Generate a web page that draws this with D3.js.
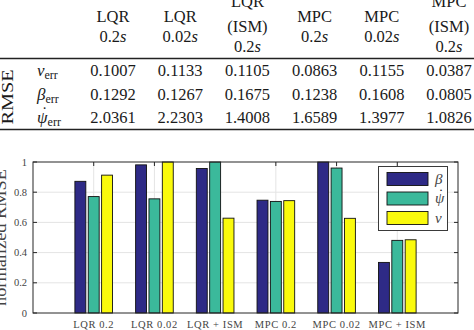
<!DOCTYPE html>
<html lang="en">
<head>
<meta charset="UTF-8" />
<title>RMSE comparison</title>
<script src="https://d3js.org/d3.v7.min.js"></script>
<style>
  html, body { margin: 0; padding: 0; background: #ffffff; }
  svg { display: block; }
  text { font-family: "Liberation Serif", "DejaVu Serif", serif; }
</style>
</head>
<body>
<div id="chart"></div>
<script>
// table: controller headers (each line of the header cell)
var headers = [
  ["LQR", "0.2"],
  ["LQR", "0.02"],
  ["LQR", "(ISM)", "0.2"],
  ["MPC", "0.2"],
  ["MPC", "0.02"],
  ["MPC", "(ISM)", "0.2"]
];
// RMSE rows
var vErr = ["0.1007", "0.1133", "0.1105", "0.0863", "0.1155", "0.0387"];
var betaErr = ["0.1292", "0.1267", "0.1675", "0.1238", "0.1608", "0.0805"];
var psiErr = ["2.0361", "2.2303", "1.4008", "1.6589", "1.3977", "1.0826"];

// bar chart: normalized RMSE per controller
var categories = ["LQR 0.2", "LQR 0.02", "LQR + ISM", "MPC 0.2", "MPC 0.02", "MPC + ISM"];
var seriesBlue = [0.872, 0.981, 0.957, 0.747, 1.000, 0.335];
var seriesTeal = [0.771, 0.756, 1.000, 0.739, 0.960, 0.481];
var seriesYellow = [0.913, 1.000, 0.628, 0.744, 0.627, 0.485];
var legendLabels = ["\u03B2", "\u03C8", "v"];
var yTicks = [0, 0.2, 0.4, 0.6, 0.8, 1];

var W = 474, H = 330;
var svg = d3.select("#chart").append("svg")
  .attr("width", W).attr("height", H);

// dot accent drawn over a glyph (psi-dot)
function dotAbove(g, cx, baseline, size) {
  g.append("text").attr("x", cx).attr("y", baseline - size * 0.28)
    .attr("text-anchor", "middle").attr("font-size", size)
    .attr("fill", "#1a1a1a").text("\u02D9");
}

// ---------- table ----------
var colX = d3.scaleLinear().domain([0, 5]).range([113, 449]);
var ink = "#1a1a1a";

svg.append("line").attr("x1", 0).attr("x2", W).attr("y1", 58.5).attr("y2", 58.5)
  .attr("stroke", "#222").attr("stroke-width", 1.6);
svg.append("line").attr("x1", 0).attr("x2", W).attr("y1", 129.5).attr("y2", 129.5)
  .attr("stroke", "#222").attr("stroke-width", 1.6);

headers.forEach(function (h, i) {
  var base = h.length === 3 ? [7, 31.5, 51.5] : [22, 42];
  h.forEach(function (line, j) {
    var t = svg.append("text")
      .attr("x", colX(i)).attr("y", base[j])
      .attr("text-anchor", "middle")
      .attr("font-size", 16.5).attr("fill", ink);
    if (j === h.length - 1) {
      t.append("tspan").text(line);
      t.append("tspan").attr("font-style", "italic").text("s");
    } else {
      t.text(line);
    }
  });
});

var rows = [
  { sym: "v", vals: vErr, y: 76 },
  { sym: "\u03B2", vals: betaErr, y: 100 },
  { sym: "\u03C8", vals: psiErr, y: 122.5, dot: true }
];
rows.forEach(function (r) {
  var lab = svg.append("text").attr("x", 37).attr("y", r.y)
    .attr("font-size", 17).attr("fill", ink);
  lab.append("tspan").attr("font-style", "italic").text(r.sym);
  lab.append("tspan").attr("font-size", 12).attr("dy", 3).text("err");
  if (r.dot) dotAbove(svg, 44.5, r.y, 17);
  r.vals.forEach(function (v, i) {
    svg.append("text").attr("x", colX(i)).attr("y", r.y)
      .attr("text-anchor", "middle").attr("font-size", 16.5)
      .attr("fill", ink).text(v);
  });
});

svg.append("text")
  .attr("transform", "translate(13,97) rotate(-90)")
  .attr("text-anchor", "middle").attr("font-size", 16.5)
  .attr("fill", ink).attr("textLength", 55).attr("lengthAdjust", "spacingAndGlyphs")
  .text("RMSE");

// ---------- bar chart ----------
var x = d3.scaleLinear().domain([0, 7]).range([33, 458]);
var y = d3.scaleLinear().domain([0, 1]).range([313, 162]);
var gridColor = "#e4e4e4", axisColor = "#262626", labelColor = "#444";

var plot = svg.append("g");

// grid
plot.selectAll(".gy").data(yTicks.slice(1, -1)).enter().append("line")
  .attr("x1", x(0)).attr("x2", x(7))
  .attr("y1", function (d) { return y(d); }).attr("y2", function (d) { return y(d); })
  .attr("stroke", gridColor).attr("stroke-width", 1);
plot.selectAll(".gx").data(d3.range(1, 7)).enter().append("line")
  .attr("x1", function (d) { return x(d); }).attr("x2", function (d) { return x(d); })
  .attr("y1", y(0)).attr("y2", y(1))
  .attr("stroke", gridColor).attr("stroke-width", 1);

// inward ticks on all four sides
var tl = 4;
yTicks.forEach(function (t) {
  plot.append("line").attr("x1", x(0)).attr("x2", x(0) + tl)
    .attr("y1", y(t)).attr("y2", y(t)).attr("stroke", axisColor);
  plot.append("line").attr("x1", x(7)).attr("x2", x(7) - tl)
    .attr("y1", y(t)).attr("y2", y(t)).attr("stroke", axisColor);
});
d3.range(1, 7).forEach(function (c) {
  plot.append("line").attr("x1", x(c)).attr("x2", x(c))
    .attr("y1", y(1)).attr("y2", y(1) + tl).attr("stroke", axisColor);
  plot.append("line").attr("x1", x(c)).attr("x2", x(c))
    .attr("y1", y(0)).attr("y2", y(0) - tl).attr("stroke", axisColor);
});

// bars
var series = [
  { vals: seriesBlue, color: "#2e2a86", off: -0.22 },
  { vals: seriesTeal, color: "#3bb99b", off: 0 },
  { vals: seriesYellow, color: "#fafa0c", off: 0.22 }
];
var bw = 0.18;
series.forEach(function (s) {
  plot.selectAll(null).data(s.vals).enter().append("rect")
    .attr("x", function (d, i) { return x(i + 1 + s.off - bw / 2); })
    .attr("y", function (d) { return y(d); })
    .attr("width", x(bw) - x(0))
    .attr("height", function (d) { return y(0) - y(d); })
    .attr("fill", s.color)
    .attr("stroke", "#111").attr("stroke-width", 0.9);
});

// axes box
plot.append("rect").attr("x", x(0)).attr("y", y(1))
  .attr("width", x(7) - x(0)).attr("height", y(0) - y(1))
  .attr("fill", "none").attr("stroke", axisColor).attr("stroke-width", 1);

// y tick labels
plot.selectAll(".yl").data(yTicks).enter().append("text")
  .attr("x", 27).attr("y", function (d) { return y(d) + 3.5; })
  .attr("text-anchor", "end").attr("font-size", 10.5).attr("fill", labelColor)
  .text(function (d) { return d; });

// category labels
plot.selectAll(".xl").data(categories).enter().append("text")
  .attr("x", function (d, i) { return x(i + 1); }).attr("y", 327.5)
  .attr("text-anchor", "middle").attr("font-size", 10.5)
  .attr("letter-spacing", 0.6).attr("fill", labelColor)
  .text(function (d) { return d; });

// y axis title
svg.append("text")
  .attr("transform", "translate(5.5," + y(0.5) + ") rotate(-90)")
  .attr("text-anchor", "middle").attr("font-size", 17).attr("fill", labelColor)
  .attr("textLength", 137).attr("lengthAdjust", "spacingAndGlyphs")
  .text("normalized RMSE");

// legend
var lg = svg.append("g");
lg.append("rect").attr("x", 378.5).attr("y", 166.5).attr("width", 69).attr("height", 64)
  .attr("fill", "#fff").attr("stroke", "#3a3a3a").attr("stroke-width", 1);
var legY = [172.5, 192, 211.5];
series.forEach(function (s, i) {
  lg.append("rect").attr("x", 387).attr("y", legY[i]).attr("width", 41).attr("height", 13)
    .attr("fill", s.color).attr("stroke", "#111").attr("stroke-width", 0.9);
  lg.append("text").attr("x", 435).attr("y", legY[i] + 11)
    .attr("font-size", 15).attr("font-style", "italic").attr("fill", labelColor)
    .text(legendLabels[i]);
  if (i === 1) dotAbove(lg, 441, legY[i] + 11, 15);
});
</script>
</body>
</html>
